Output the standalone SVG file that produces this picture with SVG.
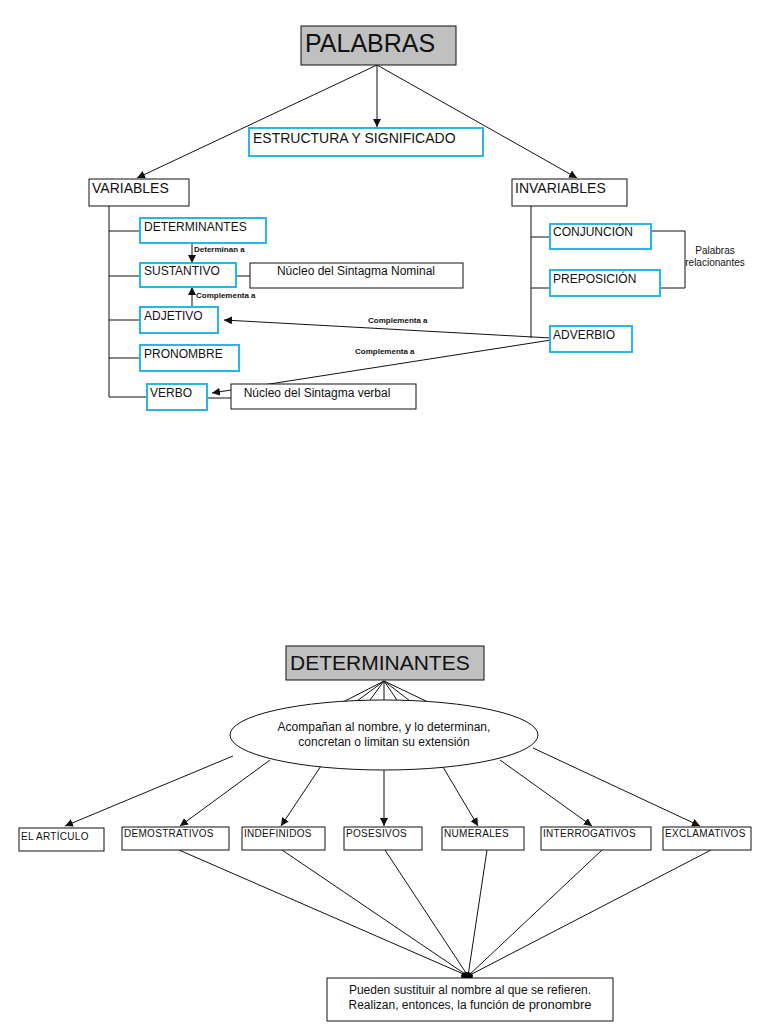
<svg xmlns="http://www.w3.org/2000/svg" width="768" height="1024" viewBox="0 0 768 1024">
<style>
text{font-family:"Liberation Sans",Arial,sans-serif;fill:#111}
.b{fill:#fff;stroke:#111;stroke-width:1}
.c{fill:#fff;stroke:#29b6e6;stroke-width:2}
.g{fill:#c0c0c0;stroke:#111;stroke-width:1}
.l{stroke:#111;stroke-width:1;fill:none}
.la{stroke:#111;stroke-width:1;fill:none;marker-end:url(#ah)}
.t14{font-size:14px}
.t13{font-size:13px}
.t12{font-size:12px}
.t10{font-size:10px}
.bx{font-size:10px;letter-spacing:0.3px}
.sm{font-size:8px;font-weight:bold}
</style>
<defs>
<marker id="ah" viewBox="0 0 10 10" refX="10" refY="5" markerWidth="8" markerHeight="8" markerUnits="userSpaceOnUse" orient="auto">
<path d="M0,0 L10,5 L0,10 z" fill="#111"/>
</marker>
</defs>
<rect width="768" height="1024" fill="#fff"/>
<g id="connectors">
<line class="la" x1="377" y1="65" x2="137" y2="178"/>
<line class="la" x1="377" y1="65" x2="377" y2="127"/>
<line class="la" x1="377" y1="65" x2="577" y2="178"/>
<polyline class="l" points="109,206 109,397 147,397"/>
<line class="l" x1="109" y1="231" x2="140" y2="231"/>
<line class="l" x1="109" y1="276" x2="140" y2="276"/>
<line class="l" x1="109" y1="320" x2="140" y2="320"/>
<line class="l" x1="109" y1="358" x2="140" y2="358"/>
<line class="l" x1="236" y1="276" x2="250" y2="276"/>
<line class="l" x1="207" y1="398" x2="231" y2="398"/>
<line class="la" x1="192" y1="243" x2="192" y2="263"/>
<line class="la" x1="192" y1="307" x2="192" y2="287"/>
<line class="l" x1="531" y1="206" x2="531" y2="338"/>
<line class="l" x1="531" y1="237" x2="550" y2="237"/>
<line class="l" x1="531" y1="288" x2="550" y2="288"/>
<polyline class="l" points="651,231 685,231 685,288 660,288"/>
<line class="la" x1="551" y1="338" x2="224" y2="320"/>
<line class="la" x1="551" y1="340" x2="212" y2="393"/>
<line class="l" x1="384" y1="681" x2="343" y2="702"/>
<line class="l" x1="384" y1="681" x2="357" y2="701"/>
<line class="l" x1="384" y1="681" x2="370" y2="700"/>
<line class="l" x1="384" y1="681" x2="384" y2="700"/>
<line class="l" x1="384" y1="681" x2="397" y2="700"/>
<line class="l" x1="384" y1="681" x2="410" y2="701"/>
<line class="l" x1="384" y1="681" x2="428" y2="702"/>
<line class="la" x1="233" y1="756" x2="65" y2="826"/>
<line class="la" x1="270" y1="760" x2="180" y2="826"/>
<line class="la" x1="321" y1="766" x2="281" y2="826"/>
<line class="la" x1="384" y1="770" x2="384" y2="826"/>
<line class="la" x1="443" y1="767" x2="478" y2="826"/>
<line class="la" x1="500" y1="760" x2="592" y2="826"/>
<line class="la" x1="533" y1="748" x2="700" y2="826"/>
<line class="l" x1="179" y1="850" x2="468" y2="976"/>
<line class="l" x1="282" y1="850" x2="468" y2="976"/>
<line class="l" x1="385" y1="850" x2="468" y2="976"/>
<line class="l" x1="487" y1="850" x2="468" y2="976"/>
<line class="l" x1="602" y1="850" x2="468" y2="976"/>
<line class="l" x1="711" y1="850" x2="468" y2="976"/>
<ellipse cx="467" cy="976" rx="6" ry="4" fill="#000"/>
</g>
<g id="labels">
<text class="sm" x="194" y="252">Determinan a</text>
<text class="sm" x="196" y="298">Complementa a</text>
<text class="sm" x="368" y="323">Complementa a</text>
<text class="sm" x="355" y="354">Complementa a</text>
<text class="t10" x="715" y="254" text-anchor="middle">Palabras</text>
<text class="t10" x="715" y="266" text-anchor="middle">relacionantes</text>
</g>
<g id="palabras"><rect class="g" x="301" y="26" width="155" height="39"/><text x="305" y="52" font-size="25">PALABRAS</text></g>
<g id="estructura"><rect class="c" x="249" y="128" width="234" height="28"/><text class="t14" x="253" y="143">ESTRUCTURA Y SIGNIFICADO</text></g>
<g id="variables"><rect class="b" x="89" y="179" width="100" height="27"/><text class="t14" x="92" y="193">VARIABLES</text></g>
<g id="invariables"><rect class="b" x="512" y="179" width="115" height="27"/><text class="t14" x="515" y="193">INVARIABLES</text></g>
<g id="determinantes1"><rect class="c" x="140" y="218" width="126" height="25"/><text class="t12" x="144" y="231">DETERMINANTES</text></g>
<g id="sustantivo"><rect class="c" x="140" y="263" width="96" height="24"/><text class="t12" x="144" y="275">SUSTANTIVO</text></g>
<g id="nucleo-nominal"><rect class="b" x="250" y="263" width="213" height="25"/><text class="t12" x="356" y="275" text-anchor="middle">Núcleo del Sintagma Nominal</text></g>
<g id="adjetivo"><rect class="c" x="140" y="307" width="78" height="26"/><text class="t12" x="144" y="320">ADJETIVO</text></g>
<g id="pronombre"><rect class="c" x="140" y="345" width="99" height="26"/><text class="t12" x="144" y="358">PRONOMBRE</text></g>
<g id="verbo"><rect class="c" x="147" y="384" width="60" height="26"/><text class="t12" x="150" y="397">VERBO</text></g>
<g id="nucleo-verbal"><rect class="b" x="231" y="384" width="185" height="25"/><text class="t12" x="317" y="397" text-anchor="middle">Núcleo del Sintagma verbal</text></g>
<g id="conjuncion"><rect class="c" x="550" y="224" width="101" height="25"/><text class="t12" x="553" y="236">CONJUNCIÓN</text></g>
<g id="preposicion"><rect class="c" x="550" y="270" width="110" height="26"/><text class="t12" x="553" y="283">PREPOSICIÓN</text></g>
<g id="adverbio"><rect class="c" x="550" y="326" width="82" height="26"/><text class="t12" x="553" y="339">ADVERBIO</text></g>
<g id="determinantes2"><rect class="g" x="286" y="646" width="198" height="34"/><text x="290" y="670" font-size="21">DETERMINANTES</text></g>
<g id="acompanan"><ellipse cx="384" cy="735" rx="154" ry="35" fill="#fff" stroke="#111"/><text class="t12" x="384" y="731" text-anchor="middle">Acompañan al nombre, y lo determinan,</text><text class="t12" x="384" y="746" text-anchor="middle">concretan o limitan su extensión</text></g>
<g id="articulo"><rect class="b" x="19" y="828" width="85" height="23"/><text class="bx" x="21" y="840">EL ARTÍCULO</text></g>
<g id="demostrativos"><rect class="b" x="122" y="827" width="107" height="23"/><text class="bx" x="124" y="837">DEMOSTRATIVOS</text></g>
<g id="indefinidos"><rect class="b" x="242" y="827" width="83" height="23"/><text class="bx" x="244" y="837">INDEFINIDOS</text></g>
<g id="posesivos"><rect class="b" x="344" y="827" width="78" height="23"/><text class="bx" x="346" y="837">POSESIVOS</text></g>
<g id="numerales"><rect class="b" x="442" y="827" width="82" height="23"/><text class="bx" x="444" y="837">NUMERALES</text></g>
<g id="interrogativos"><rect class="b" x="541" y="827" width="110" height="23"/><text class="bx" x="543" y="837">INTERROGATIVOS</text></g>
<g id="exclamativos"><rect class="b" x="663" y="827" width="88" height="23"/><text class="bx" x="665" y="837">EXCLAMATIVOS</text></g>
<g id="pueden"><rect class="b" x="327" y="978" width="286" height="43"/><text class="t12" x="470" y="994" text-anchor="middle">Pueden sustituir al nombre al que se refieren.</text><text class="t12" x="470" y="1009" text-anchor="middle">Realizan, entonces, la función de <tspan font-size="13">pronombre</tspan></text></g>
</svg>
